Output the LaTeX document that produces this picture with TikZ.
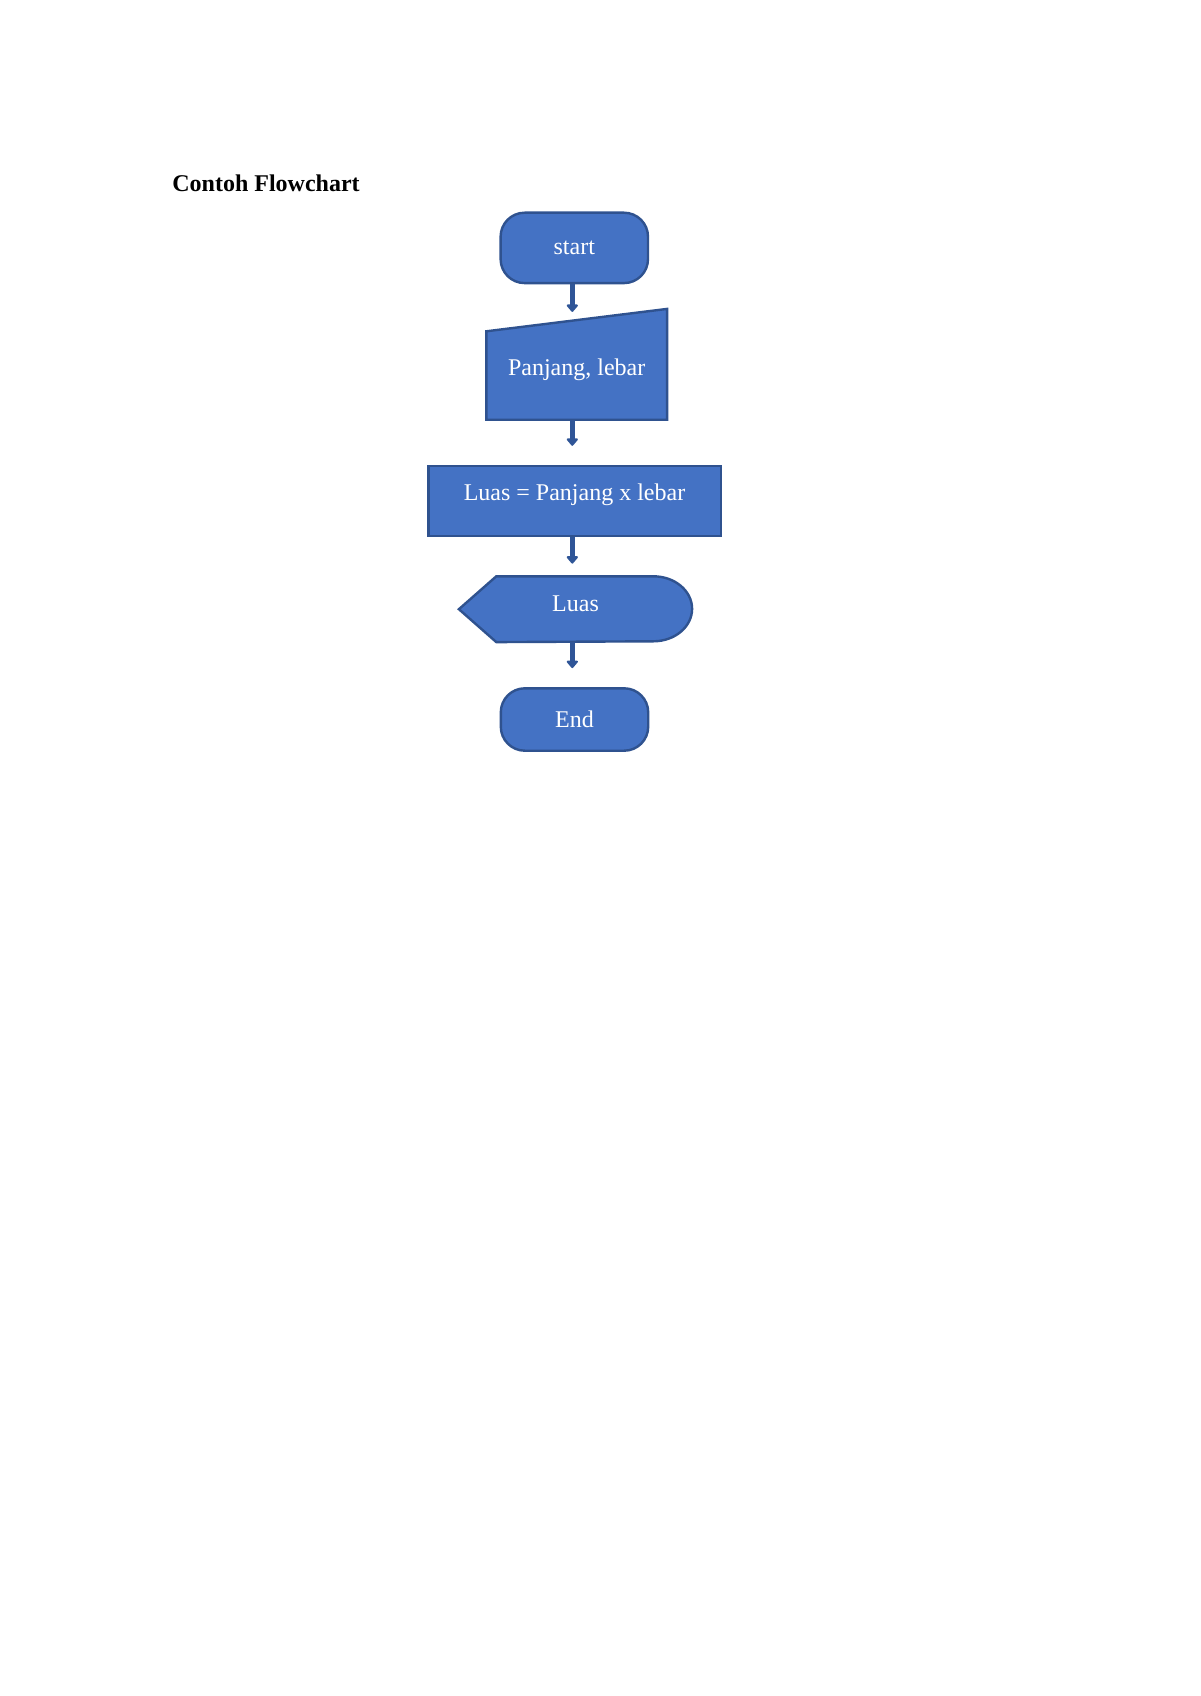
\documentclass[tikz,border=0pt]{standalone}
\usepackage{fontspec}
\setmainfont{Liberation Serif}
\usetikzlibrary{arrows.meta}
\pgfdeclarelayer{bg}
\pgfsetlayers{bg,main}
\definecolor{boxfill}{HTML}{4472C4}
\definecolor{boxline}{HTML}{2F528F}
\definecolor{connline}{HTML}{2F5597}
\tikzset{
  base/.style={inner sep=0pt, text=white, font=\fontsize{12}{14}\selectfont},
  shapebox/.style={fill=boxfill, draw=boxline, line width=1.2pt},
  term/.style={base, shapebox, rounded corners=12pt, minimum width=73.7pt},
  proc/.style={base, shapebox, rectangle},
  ghost/.style={base, draw=none},
  conn/.style={draw=connline, line width=2.5pt,
    -{Triangle[width=6.5pt,length=4pt,round]}},
}
\begin{document}
\begin{tikzpicture}[x=0.5pt,y=-0.5pt]
\useasboundingbox (0,0) rectangle (1200,1696);

\node (title) [anchor=base west, inner sep=0pt, font=\fontsize{12}{14}\selectfont\bfseries] at (172,191.7) {Contoh Flowchart};

\coordinate (axis) at (572.3,0);

\node (start) [term, minimum height=35.2pt] at (574.3,247.9) {start};

\node (in) [ghost, minimum width=90pt, minimum height=55pt, text height=14pt, text depth=2.6pt] at (576.7,364.3) {Panjang, lebar};

\node (calc) [proc, minimum width=146.2pt, minimum height=35pt, text height=8.2pt, text depth=8.3pt] at (574.5,501) {Luas = Panjang x lebar};

\node (out) [ghost, minimum width=116.2pt, minimum height=32.5pt, text height=8pt, text depth=6pt] at (575.5,609.2) {Luas};

\node (end) [term, minimum height=31.2pt] at (574.5,719.5) {End};

\begin{pgfonlayer}{bg}
\fill[white] (0,0) rectangle (1200,1696);
\draw[shapebox] (in.south west) -- (in.south east) -- (in.north east)
  -- ([yshift=-11.2pt]in.north west) -- cycle;
\draw[shapebox] (out.west) -- ([xshift=18.7pt]out.north west)
  -- ([xshift=-19.35pt]out.north east)
  arc[start angle=90, end angle=-90, x radius=19.35pt, y radius=16.25pt]
  -- ([xshift=18.7pt]out.south west) -- cycle;
\end{pgfonlayer}

\draw[conn, shorten >=-1.5pt] (start.south -| axis) -- (in.north -| axis);
\draw[conn, shorten >=9.5pt] (in.south -| axis) -- (calc.north -| axis);
\draw[conn, shorten >=6.35pt] (calc.south -| axis) -- (out.north -| axis);
\draw[conn, shorten >=9.5pt] (out.south -| axis) -- (end.north -| axis);
\end{tikzpicture}
\end{document}
